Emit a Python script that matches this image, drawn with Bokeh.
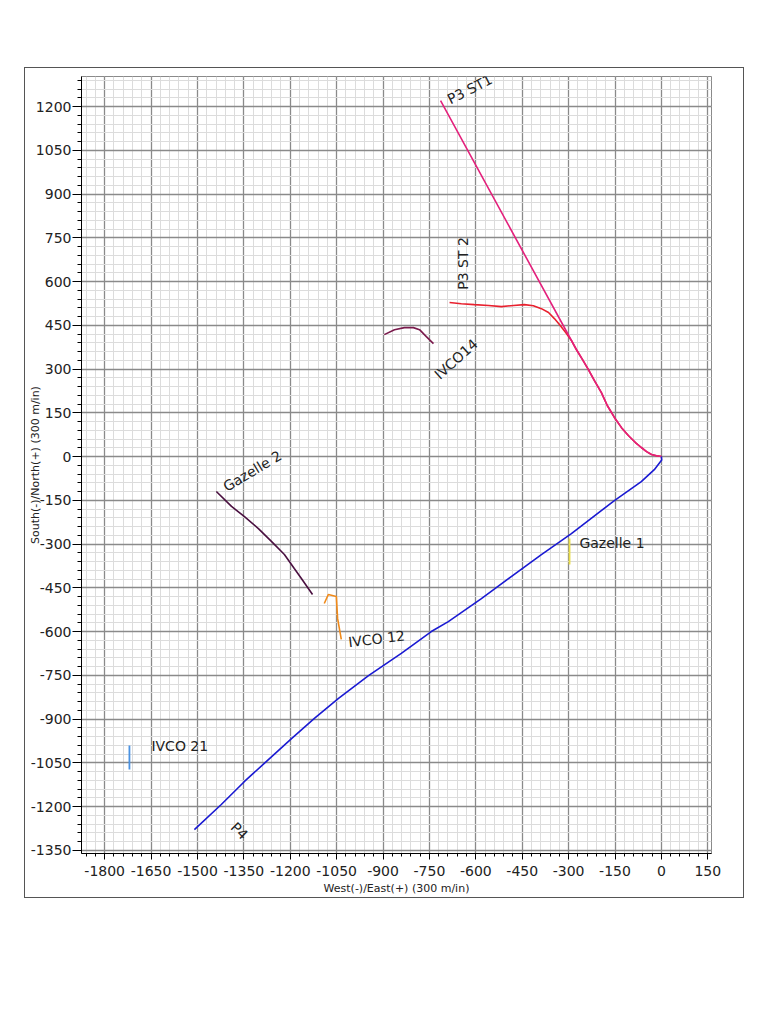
from bokeh.plotting import figure
from bokeh.models import SingleIntervalTicker, Label, Range1d, PrintfTickFormatter
from bokeh.embed import file_html
from bokeh.resources import INLINE

# ---- well paths (West(-)/East(+), South(-)/North(+)) ----
p3st1_x = [-714, -275, -255, -236, -217, -194, -175, -152, -129, -107, -84, -65, -48, -32, -16, 0]
p3st1_y = [1220, 367, 332, 298, 261, 219, 175, 134, 99, 72, 48, 31, 17, 7, 3, 0]

p3st2_x = [-685, -647, -605, -559, -517, -478, -443, -414, -388, -365, -346, -327, -307, -291,
           -275, -255, -236, -217, -194, -175, -152, -129, -107, -84, -65, -48, -32, -16, 0]
p3st2_y = [528, 524, 521, 518, 514, 518, 521, 517, 507, 494, 473, 449, 422, 398,
           367, 332, 298, 261, 219, 175, 134, 99, 72, 48, 31, 17, 7, 3, 0]

p4_x = [-1510, -1423, -1348, -1284, -1196, -1122, -1044, -947, -841, -744, -689, -582, -388,
        -291, -152, -65, -23, 1, 0]
p4_y = [-1279, -1193, -1114, -1052, -967, -898, -829, -751, -675, -600, -566, -487, -336,
        -264, -151, -86, -45, -12, 0]

ivco14_x = [-896, -863, -831, -802, -782, -760, -737]
ivco14_y = [418, 435, 442, 442, 435, 411, 387]

gaz2_x = [-1439, -1390, -1348, -1303, -1261, -1219, -1187, -1164, -1128]
gaz2_y = [-120, -171, -206, -247, -291, -336, -384, -418, -473]

ivco12_x = [-1090, -1077, -1051, -1047, -1035]
ivco12_y = [-504, -473, -480, -555, -627]

gaz1_x = [-297, -297]
gaz1_y = [-281, -370]

ivco21_x = [-1720, -1720]
ivco21_y = [-991, -1073]

# ---- labels ----
lab_text = ["P3  ST1", "P3 ST 2", "IVCO14", "Gazelle 2", "IVCO 12", "Gazelle  1", "IVCO  21", "P4"]
lab_x = [-689, -643, -727, -1413, -1012, -265, -1649, -1384]
lab_y = [1222, 572, 274, -107, -637, -298, -994, -1262]
lab_angle = [27, 90, 42, 31, 7, 0, 0, -45]

FONT = "DejaVu Sans"

p = figure(width=720, height=831, output_backend="svg", toolbar_location=None,
           x_range=Range1d(-1875, 162), y_range=Range1d(-1361, 1303),
           min_border_left=56, min_border_right=34, min_border_top=8,
           min_border_bottom=46, margin=(67, 0, 0, 24),
           styles={"border": "1px solid #555555"})

for ax in (p.xaxis[0], p.yaxis[0]):
    ax.ticker = SingleIntervalTicker(interval=150, num_minor_ticks=5)
    ax.formatter = PrintfTickFormatter(format="%d")
    ax.major_label_text_font = FONT
    ax.major_label_text_font_size = "14px"
    ax.major_label_text_color = "#222222"
    ax.axis_line_color = "black"
    ax.major_tick_line_color = "black"
    ax.minor_tick_line_color = "black"
    ax.major_tick_in = 0
    ax.minor_tick_in = 0
    ax.axis_label_text_font = FONT
    ax.axis_label_text_font_size = "11px"
    ax.axis_label_text_font_style = "normal"
    ax.axis_label_text_color = "#222222"

p.yaxis.major_tick_out = 9
p.yaxis.minor_tick_out = 4
p.yaxis.major_label_standoff = 1
p.yaxis.axis_label = "South(-)/North(+) (300 m/in)"
p.yaxis.axis_label_standoff = -14

p.xaxis.major_tick_out = 6
p.xaxis.minor_tick_out = 3
p.xaxis.major_label_standoff = 6
p.xaxis.axis_label = "West(-)/East(+) (300 m/in)"
p.xaxis.axis_label_standoff = 3

p.grid.grid_line_color = "#8a8a8a"
p.grid.grid_line_width = 1.3
p.grid.minor_grid_line_color = "#dcdcdc"
p.grid.minor_grid_line_width = 1
p.outline_line_color = "#8a8a8a"

p.line(p3st2_x, p3st2_y, line_color="#e8202e", line_width=1.6)
p.line(p3st1_x, p3st1_y, line_color="#e3217c", line_width=1.6)
p.line(p4_x, p4_y, line_color="#1a1ad2", line_width=1.6)
p.line(ivco14_x, ivco14_y, line_color="#7a1a4c", line_width=1.6)
p.line(gaz2_x, gaz2_y, line_color="#4a1040", line_width=1.6)
p.line(ivco12_x, ivco12_y, line_color="#f08a1a", line_width=1.6)
p.line(gaz1_x, gaz1_y, line_color="#e8dc4a", line_width=1.8)
p.line(ivco21_x, ivco21_y, line_color="#4a92e2", line_width=1.8)

for t, x, y, a in zip(lab_text, lab_x, lab_y, lab_angle):
    p.add_layout(Label(x=x, y=y, text=t, angle=a, angle_units="deg",
                       text_font=FONT, text_font_size="14px", text_color="#222222",
                       text_align="left", text_baseline="alphabetic"))

open("out.html", "w").write(file_html(p, INLINE))
